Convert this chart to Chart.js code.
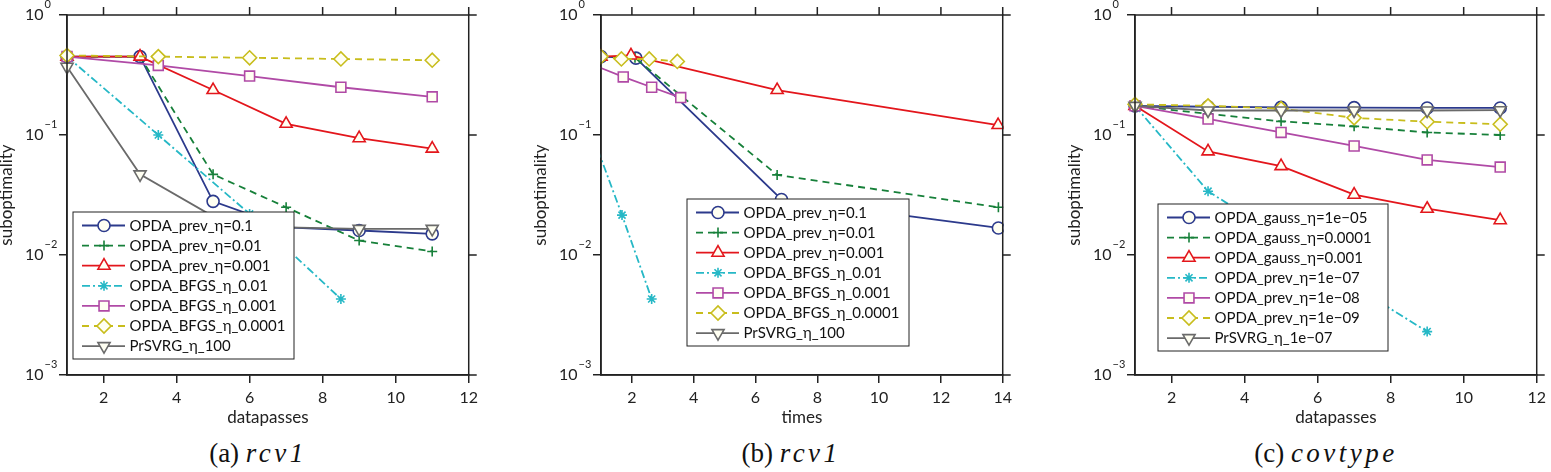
<!DOCTYPE html>
<html>
<head>
<meta charset="utf-8">
<script src="https://cdn.jsdelivr.net/npm/chart.js@4.4.1/dist/chart.umd.min.js"></script>
<style>
    html, body { margin: 0; padding: 0; background: #fff; overflow: hidden; }
    #wrap { position: relative; width: 1551px; height: 472px; }
    canvas { position: absolute; top: 0; }
    .cap {
        position: absolute; top: 438px; line-height: 30px;
        font-family: "Liberation Serif", "DejaVu Serif", serif; font-size: 27px;
        white-space: nowrap; transform: translateX(-50%); color: #111;
    }
    .cap i { letter-spacing: 3.5px; }
</style>
</head>
<body>
<div id="wrap">
    <canvas id="chartA" width="483" height="430" style="left:0px"></canvas>
    <canvas id="chartB" width="483" height="430" style="left:534px"></canvas>
    <canvas id="chartC" width="483" height="430" style="left:1068px"></canvas>
    <div class="cap" style="left:258px">(a) <i>rcv1</i></div>
    <div class="cap" style="left:791px">(b) <i>rcv1</i></div>
    <div class="cap" style="left:1326px">(c) <i>covtype</i></div>
</div>
<script>
// Axis ticks
const yTicks = [0.001, 0.01, 0.1, 1];
const xTicksA = [2, 4, 6, 8, 10, 12];
const xTicksB = [2, 4, 6, 8, 10, 12, 14];
const xTicksC = [2, 4, 6, 8, 10, 12];

// (a) rcv1, datapasses
const labelsA = ['OPDA_prev_η=0.1', 'OPDA_prev_η=0.01', 'OPDA_prev_η=0.001',
    'OPDA_BFGS_η_0.01', 'OPDA_BFGS_η_0.001', 'OPDA_BFGS_η_0.0001', 'PrSVRG_η_100'];
const prevXA = [1, 3, 5, 7, 9, 11];
const bfgsXA = [1, 3.5, 6, 8.5, 11];
const prev01A = [0.45, 0.45, 0.028, 0.017, 0.016, 0.015];
const prev001A = [0.45, 0.45, 0.047, 0.025, 0.0132, 0.0107];
const prev0001A = [0.45, 0.45, 0.237, 0.124, 0.094, 0.077];
const bfgs001A = [0.45, 0.1, 0.022, 0.0043];
const bfgs0001A = [0.45, 0.38, 0.31, 0.25, 0.208];
const bfgs00001A = [0.46, 0.45, 0.44, 0.43, 0.42];
const svrgA = [0.37, 0.047, 0.021, 0.017, 0.0165, 0.0165];

// (b) rcv1, times
const prev01XB = [1, 2.13, 6.84, 13.86];
const prev01B = [0.45, 0.437, 0.029, 0.0168];
const prev001XB = [1, 2.1, 6.7, 13.86];
const prev001B = [0.45, 0.44, 0.0465, 0.025];
const prev0001XB = [1, 1.97, 6.7, 13.85];
const prev0001B = [0.45, 0.46, 0.237, 0.121];
const bfgs001XB = [0.72, 1.68, 2.64];
const bfgs001B = [0.1, 0.0215, 0.0043];
const bfgs0001XB = [0.79, 1.72, 2.64, 3.58];
const bfgs0001B = [0.38, 0.305, 0.25, 0.205];
const bfgs00001XB = [1, 1.66, 2.56, 3.47];
const bfgs00001B = [0.45, 0.43, 0.43, 0.41];
const svrgXB = [];
const svrgB = [];

// (c) covtype, datapasses
const labelsC = ['OPDA_gauss_η=1e−05', 'OPDA_gauss_η=0.0001', 'OPDA_gauss_η=0.001',
    'OPDA_prev_η=1e−07', 'OPDA_prev_η=1e−08', 'OPDA_prev_η=1e−09', 'PrSVRG_η_1e−07'];
const passXC = [1, 3, 5, 7, 9, 11];
const gauss1e5C = [0.175, 0.172, 0.17, 0.169, 0.168, 0.168];
const gauss1e4C = [0.175, 0.15, 0.13, 0.118, 0.105, 0.1];
const gauss1e3C = [0.175, 0.073, 0.055, 0.0318, 0.0243, 0.0195];
const prev1e7C = [0.175, 0.034, 0.014, 0.0055, 0.0023];
const prev1e8C = [0.175, 0.136, 0.105, 0.081, 0.062, 0.054];
const prev1e9C = [0.18, 0.175, 0.166, 0.139, 0.129, 0.123];
const svrg1e7C = [0.175, 0.16, 0.16, 0.16, 0.16, 0.161];

const FONT = 'Lato, "DejaVu Sans", sans-serif';
const INK = '#222';

const STYLES = [
    { borderColor: '#2c3a8c', pointStyle: 'circle', pointRadius: 6 },
    { borderColor: '#17803a', pointStyle: 'cross', pointRadius: 5, borderDash: [7, 5] },
    { borderColor: '#e3161c', pointStyle: 'triangle', pointRadius: 7 },
    { borderColor: '#26b8c6', pointStyle: 'star', pointRadius: 5, borderDash: [8, 3, 2, 3] },
    { borderColor: '#b04aa6', pointStyle: 'rect', pointRadius: 7 },
    { borderColor: '#c8bd1c', pointStyle: 'rectRot', pointRadius: 7, borderDash: [7, 5] },
    { borderColor: '#6a6a6a', pointStyle: 'triangle', pointRotation: 180, pointRadius: 7 }
];

function series(i, label, xs, ys, clip) {
    const s = STYLES[i];
    return {
        label: label,
        data: ys.map((y, k) => ({ x: xs[k], y: y })),
        borderColor: s.borderColor,
        borderWidth: 1.8,
        borderDash: s.borderDash || [],
        pointStyle: s.pointStyle,
        pointRadius: s.pointRadius,
        pointRotation: s.pointRotation || 0,
        pointBorderColor: s.borderColor,
        pointBackgroundColor: '#fffff2',
        pointBorderWidth: 1.6,
        fill: false,
        tension: 0,
        order: 6 - i,
        clip: clip
    };
}

// box, top/right ticks, y tick labels, y title and legend
const overlay = {
    id: 'overlay',
    afterDraw(chart, args, opts) {
        const { ctx, chartArea: a, scales } = chart;
        ctx.save();
        ctx.strokeStyle = INK;
        ctx.lineWidth = 1.5;
        ctx.setLineDash([]);
        ctx.strokeRect(a.left, a.top, a.right - a.left, a.bottom - a.top);

        ctx.beginPath();
        scales.x.ticks.forEach(t => {
            const px = scales.x.getPixelForValue(t.value);
            ctx.moveTo(px, a.top);
            ctx.lineTo(px, a.top - 8);
        });
        scales.y.ticks.forEach(t => {
            const py = scales.y.getPixelForValue(t.value);
            ctx.moveTo(a.right, py);
            ctx.lineTo(a.right + 8, py);
        });
        ctx.stroke();

        // y tick labels as 10^k
        ctx.fillStyle = INK;
        ctx.textBaseline = 'middle';
        ctx.textAlign = 'left';
        scales.y.ticks.forEach(t => {
            const py = scales.y.getPixelForValue(t.value);
            const e = Math.round(Math.log10(t.value));
            const x0 = a.left - 42;
            ctx.font = '16px ' + FONT;
            ctx.fillText('10', x0, py);
            const w = ctx.measureText('10').width;
            ctx.font = '11px ' + FONT;
            ctx.fillText(e === 0 ? '0' : '\u2212' + (-e), x0 + w + 1, py - 11);
        });

        // y title
        ctx.save();
        ctx.translate(a.left - 60, (a.top + a.bottom) / 2);
        ctx.rotate(-Math.PI / 2);
        ctx.textAlign = 'center';
        ctx.font = '17px ' + FONT;
        ctx.fillText('suboptimality', 0, 0);
        ctx.restore();

        // legend
        const b = opts.box;
        const bx = a.left + b.x, by = a.top + b.y;
        ctx.fillStyle = '#fff';
        ctx.fillRect(bx, by, b.w, b.h);
        ctx.lineWidth = 1;
        ctx.strokeStyle = INK;
        ctx.strokeRect(bx, by, b.w, b.h);
        chart.data.datasets.forEach((ds, i) => {
            const cy = by + 13.5 + i * 20.1;
            ctx.strokeStyle = ds.borderColor;
            ctx.lineWidth = ds.borderWidth;
            ctx.setLineDash(ds.borderDash);
            ctx.beginPath();
            ctx.moveTo(bx + 9, cy);
            ctx.lineTo(bx + 52, cy);
            ctx.stroke();
            ctx.setLineDash([]);
            ctx.fillStyle = ds.pointBackgroundColor;
            ctx.strokeStyle = ds.pointBorderColor;
            ctx.lineWidth = ds.pointBorderWidth;
            Chart.helpers.drawPoint(ctx, {
                pointStyle: ds.pointStyle,
                radius: ds.pointRadius,
                rotation: ds.pointRotation,
                borderWidth: ds.pointBorderWidth
            }, bx + 31, cy);
            ctx.fillStyle = '#111';
            ctx.font = '15px ' + FONT;
            ctx.textBaseline = 'middle';
            ctx.fillText(ds.label, bx + 56.5, cy + 0.5);
        });
        ctx.restore();
    }
};

function makeScales(xMax, xTicks, xTitle) {
    const grid = { drawOnChartArea: false, drawTicks: true, tickLength: 8, color: INK, lineWidth: 1.5 };
    const border = { display: true, color: INK, width: 1.5 };
    return {
        x: {
            type: 'linear', min: 1, max: xMax,
            afterBuildTicks: s => { s.ticks = xTicks.map(v => ({ value: v })); },
            afterFit: s => { s.height = 55; },
            grid: grid, border: border,
            ticks: { font: { family: FONT, size: 16 }, color: INK, padding: 5, maxRotation: 0, autoSkip: false },
            title: { display: true, text: xTitle, font: { family: FONT, size: 17 }, color: INK, padding: { top: 0, bottom: 2 } }
        },
        y: {
            type: 'logarithmic', min: 0.001, max: 1,
            afterBuildTicks: s => { s.ticks = yTicks.map(v => ({ value: v })); },
            afterFit: s => { s.width = 67; },
            grid: grid, border: border,
            ticks: { display: false }
        }
    };
}

function makeChart(id, datasets, xMax, xTicks, xTitle, box) {
    return new Chart(document.getElementById(id), {
        type: 'line',
        data: { datasets: datasets },
        options: {
            responsive: false,
            animation: false,
            layout: { padding: { top: 15, right: 12, left: 0, bottom: 0 }, autoPadding: false },
            scales: makeScales(xMax, xTicks, xTitle),
            plugins: { legend: { display: false }, tooltip: { enabled: false }, overlay: { box: box } }
        },
        plugins: [overlay]
    });
}

makeChart('chartA', [
    series(0, labelsA[0], prevXA, prev01A, false),
    series(1, labelsA[1], prevXA, prev001A, false),
    series(2, labelsA[2], prevXA, prev0001A, false),
    series(3, labelsA[3], bfgsXA, bfgs001A, false),
    series(4, labelsA[4], bfgsXA, bfgs0001A, false),
    series(5, labelsA[5], bfgsXA, bfgs00001A, false),
    series(6, labelsA[6], prevXA, svrgA, false)
], 12, xTicksA, 'datapasses', { x: 6, y: 197, w: 221, h: 147 });

makeChart('chartB', [
    series(0, labelsA[0], prev01XB, prev01B, 1),
    series(1, labelsA[1], prev001XB, prev001B, 1),
    series(2, labelsA[2], prev0001XB, prev0001B, 1),
    series(3, labelsA[3], bfgs001XB, bfgs001B, 1),
    series(4, labelsA[4], bfgs0001XB, bfgs0001B, 1),
    series(5, labelsA[5], bfgs00001XB, bfgs00001B, 1),
    series(6, labelsA[6], svrgXB, svrgB, 1)
], 14, xTicksB, 'times', { x: 86, y: 184, w: 222, h: 147 });

makeChart('chartC', [
    series(0, labelsC[0], passXC, gauss1e5C, false),
    series(1, labelsC[1], passXC, gauss1e4C, false),
    series(2, labelsC[2], passXC, gauss1e3C, false),
    series(3, labelsC[3], passXC, prev1e7C, false),
    series(4, labelsC[4], passXC, prev1e8C, false),
    series(5, labelsC[5], passXC, prev1e9C, false),
    series(6, labelsC[6], passXC, svrg1e7C, false)
], 12, xTicksC, 'datapasses', { x: 23, y: 189, w: 230, h: 147 });
</script>
</body>
</html>
